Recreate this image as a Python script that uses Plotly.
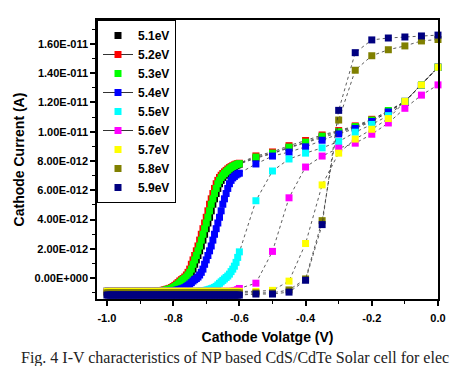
import plotly.graph_objects as go

# ---------------- data ----------------
# dense sweep voltages (V) from -1.0 to -0.6, then sparse points to 0.0
voltage_dense = [
    -1.000, -0.995, -0.990, -0.985, -0.980, -0.975, -0.970, -0.965, -0.960, -0.955,
    -0.950, -0.945, -0.940, -0.935, -0.930, -0.925, -0.920, -0.915, -0.910, -0.905,
    -0.900, -0.895, -0.890, -0.885, -0.880, -0.875, -0.870, -0.865, -0.860, -0.855,
    -0.850, -0.845, -0.840, -0.835, -0.830, -0.825, -0.820, -0.815, -0.810, -0.805,
    -0.800, -0.795, -0.790, -0.785, -0.780, -0.775, -0.770, -0.765, -0.760, -0.755,
    -0.750, -0.745, -0.740, -0.735, -0.730, -0.725, -0.720, -0.715, -0.710, -0.705,
    -0.700, -0.695, -0.690, -0.685, -0.680, -0.675, -0.670, -0.665, -0.660, -0.655,
    -0.650, -0.645, -0.640, -0.635, -0.630, -0.625, -0.620, -0.615, -0.610, -0.605,
    -0.600,
]
voltage_sparse = [-0.55, -0.50, -0.45, -0.40, -0.35, -0.30, -0.25, -0.20, -0.15, -0.10, -0.05, 0.00]

series_names = ["5.1eV", "5.2eV", "5.3eV", "5.4eV", "5.5eV", "5.6eV", "5.7eV", "5.8eV", "5.9eV"]

# cathode current in units of 1e-12 A
i_51_dense = [
    -0.9, -0.9, -0.9, -0.9, -0.9, -0.9, -0.9, -0.9, -0.9, -0.9,
    -0.9, -0.9, -0.9, -0.9, -0.9, -0.9, -0.9, -0.9, -0.9, -0.9,
    -0.9, -0.9, -0.9, -0.9, -0.9, -0.9, -0.9, -0.9, -0.9, -0.9,
    -0.9, -0.9,
    -0.89, -0.88, -0.87, -0.85, -0.82, -0.79, -0.76, -0.73, -0.69, -0.64,
    -0.57, -0.49, -0.40, -0.30, -0.19, -0.10, -0.02, 0.08, 0.22, 0.40,
    0.62, 0.95, 1.25, 1.55, 1.87, 2.2, 2.6, 3.0, 3.38, 3.77,
    4.16, 4.6, 5.05, 5.42, 5.78, 6.13, 6.45, 6.68, 6.88, 7.03,
    7.15, 7.26, 7.36, 7.46, 7.55, 7.62, 7.68, 7.74, 7.79,
]
i_51_sparse = [8.2, 8.5, 8.9, 9.25, 9.65, 9.95, 10.3, 10.75, 11.3, 12.07, 13.2, 14.4]

i_52_dense = [
    -0.9, -0.9, -0.9, -0.9, -0.9, -0.9, -0.9, -0.9, -0.9, -0.9,
    -0.9, -0.9, -0.9, -0.9, -0.9, -0.9, -0.9, -0.9, -0.9, -0.9,
    -0.9, -0.9, -0.9, -0.9, -0.9, -0.9, -0.9, -0.9, -0.9, -0.9,
    -0.89,
    -0.88, -0.87, -0.85, -0.82, -0.79, -0.76, -0.73, -0.69, -0.64, -0.57,
    -0.49, -0.40, -0.30, -0.19, -0.10, -0.02, 0.08, 0.22, 0.40, 0.62,
    0.95, 1.25, 1.55, 1.87, 2.2, 2.6, 3.0, 3.38, 3.77, 4.16,
    4.6, 5.05, 5.42, 5.78, 6.13, 6.45, 6.68, 6.88, 7.03, 7.15,
    7.26, 7.36, 7.46, 7.55, 7.62, 7.68, 7.74, 7.79, 7.82, 7.85,
]
i_52_sparse = [8.35, 8.62, 9.05, 9.4, 9.78, 10.08, 10.4, 10.85, 11.4, 12.07, 13.2, 14.4]

i_53_dense = [
    -0.9, -0.9, -0.9, -0.9, -0.9, -0.9, -0.9, -0.9, -0.9, -0.9,
    -0.9, -0.9, -0.9, -0.9, -0.9, -0.9, -0.9, -0.9, -0.9, -0.9,
    -0.9, -0.9, -0.9, -0.9, -0.9, -0.9, -0.9, -0.9, -0.9, -0.9,
    -0.9,
    -0.89, -0.88, -0.87, -0.85, -0.82, -0.79, -0.76, -0.73, -0.69, -0.64,
    -0.57, -0.49, -0.40, -0.30, -0.19, -0.10, -0.02, 0.08, 0.22, 0.40,
    0.62, 0.95, 1.25, 1.55, 1.87, 2.2, 2.6, 3.0, 3.38, 3.77,
    4.16, 4.6, 5.05, 5.42, 5.78, 6.13, 6.45, 6.68, 6.88, 7.03,
    7.15, 7.26, 7.36, 7.46, 7.55, 7.62, 7.68, 7.74, 7.79, 7.82,
]
i_53_sparse = [8.27, 8.54, 8.95, 9.29, 9.7, 10.0, 10.35, 10.8, 11.45, 12.07, 13.2, 14.4]

i_54_dense = [
    -0.9, -0.9, -0.9, -0.9, -0.9, -0.9, -0.9, -0.9, -0.9, -0.9,
    -0.9, -0.9, -0.9, -0.9, -0.9, -0.9, -0.9, -0.9, -0.9, -0.9,
    -0.9, -0.9, -0.9, -0.9, -0.9, -0.9, -0.9, -0.9, -0.9, -0.9,
    -0.9, -0.9, -0.9, -0.9, -0.9, -0.9, -0.9, -0.9,
    -0.89, -0.88, -0.87, -0.85, -0.82, -0.79, -0.76, -0.73, -0.69, -0.64,
    -0.57, -0.49, -0.40, -0.30, -0.19, -0.10, -0.02, 0.08, 0.22, 0.40,
    0.62, 0.95, 1.25, 1.55, 1.87, 2.2, 2.6, 3.0, 3.38, 3.77,
    4.16, 4.6, 5.05, 5.42, 5.78, 6.13, 6.45, 6.68, 6.85, 6.95,
    7.05, 7.12, 7.17,
]
i_54_sparse = [7.8, 8.34, 8.61, 8.97, 9.42, 9.85, 10.22, 10.7, 11.35, 12.07, 13.2, 14.4]

i_55_dense = [
    -0.9, -0.9, -0.9, -0.9, -0.9, -0.9, -0.9, -0.9, -0.9, -0.9,
    -0.9, -0.9, -0.9, -0.9, -0.9, -0.9, -0.9, -0.9, -0.9, -0.9,
    -0.9, -0.9, -0.9, -0.9, -0.9, -0.9, -0.9, -0.9, -0.9, -0.9,
    -0.9, -0.9, -0.9, -0.9, -0.9, -0.9, -0.9, -0.9, -0.9, -0.9,
    -0.9, -0.9, -0.9, -0.9, -0.9, -0.9, -0.9, -0.9, -0.9, -0.9,
    -0.9, -0.9, -0.9, -0.9, -0.9,
    -0.89, -0.88, -0.87, -0.86, -0.84, -0.82, -0.79, -0.76, -0.72, -0.68,
    -0.63, -0.56, -0.46, -0.35, -0.25, -0.15, -0.05, 0.05, 0.15, 0.28,
    0.45, 0.62, 0.82, 1.08, 1.42, 1.8,
]
i_55_sparse = [5.29, 7.32, 8.14, 8.54, 8.9, 9.33, 9.97, 10.5, 11.1, 12.07, 13.2, 14.4]

i_56_dense = [
    -0.9, -0.9, -0.9, -0.9, -0.9, -0.9, -0.9, -0.9, -0.9, -0.9,
    -0.9, -0.9, -0.9, -0.9, -0.9, -0.9, -0.9, -0.9, -0.9, -0.9,
    -0.9, -0.9, -0.9, -0.9, -0.9, -0.9, -0.9, -0.9, -0.9, -0.9,
    -0.9, -0.9, -0.9, -0.9, -0.9, -0.9, -0.9, -0.9, -0.9, -0.9,
    -0.9, -0.9, -0.9, -0.9, -0.9, -0.9, -0.9, -0.9, -0.9, -0.9,
    -0.9, -0.9, -0.9, -0.9, -0.9, -0.9, -0.9, -0.9, -0.9, -0.9,
    -0.9, -0.9, -0.9, -0.9, -0.9, -0.9, -0.9, -0.9, -0.9, -0.9,
    -0.9, -0.9, -0.9, -0.9, -0.9, -0.9,
    -0.88, -0.86, -0.83, -0.78, -0.7,
]
i_56_sparse = [-0.34, 1.83, 5.49, 7.59, 8.34, 8.88, 9.22, 9.83, 10.6, 11.6, 12.5, 13.2]

i_57_dense = [
    -0.9, -0.9, -0.9, -0.9, -0.9, -0.9, -0.9, -0.9, -0.9, -0.9,
    -0.9, -0.9, -0.9, -0.9, -0.9, -0.9, -0.9, -0.9, -0.9, -0.9,
    -0.9, -0.9, -0.9, -0.9, -0.9, -0.9, -0.9, -0.9, -0.9, -0.9,
    -0.9, -0.9, -0.9, -0.9, -0.9, -0.9, -0.9, -0.9, -0.9, -0.9,
    -0.9, -0.9, -0.9, -0.9, -0.9, -0.9, -0.9, -0.9, -0.9, -0.9,
    -0.9, -0.9, -0.9, -0.9, -0.9, -0.9, -0.9, -0.9, -0.9, -0.9,
    -0.9, -0.9, -0.9, -0.9, -0.9, -0.9, -0.9, -0.9, -0.9, -0.9,
    -0.9, -0.9, -0.9, -0.9, -0.9, -0.9, -0.9, -0.9, -0.9, -0.9,
    -0.9,
]
i_57_sparse = [-0.9, -0.83, -0.2, 2.37, 6.37, 8.54, 9.5, 10.17, 10.9, 12.07, 13.2, 14.4]

i_58_dense = [
    -1.0, -1.0, -1.0, -1.0, -1.0, -1.0, -1.0, -1.0, -1.0, -1.0,
    -1.0, -1.0, -1.0, -1.0, -1.0, -1.0, -1.0, -1.0, -1.0, -1.0,
    -1.0, -1.0, -1.0, -1.0, -1.0, -1.0, -1.0, -1.0, -1.0, -1.0,
    -1.0, -1.0, -1.0, -1.0, -1.0, -1.0, -1.0, -1.0, -1.0, -1.0,
    -1.0, -1.0, -1.0, -1.0, -1.0, -1.0, -1.0, -1.0, -1.0, -1.0,
    -1.0, -1.0, -1.0, -1.0, -1.0, -1.0, -1.0, -1.0, -1.0, -1.0,
    -1.0, -1.0, -1.0, -1.0, -1.0, -1.0, -1.0, -1.0, -1.0, -1.0,
    -1.0, -1.0, -1.0, -1.0, -1.0, -1.0, -1.0, -1.0, -1.0, -1.0,
    -1.0,
]
i_58_sparse = [-1.0, -1.0, -0.8, -0.05, 3.93, 10.8, 14.2, 15.19, 15.6, 15.86, 16.2, 16.3]

i_59_dense = [
    -1.15, -1.15, -1.15, -1.15, -1.15, -1.15, -1.15, -1.15, -1.15, -1.15,
    -1.15, -1.15, -1.15, -1.15, -1.15, -1.15, -1.15, -1.15, -1.15, -1.15,
    -1.15, -1.15, -1.15, -1.15, -1.15, -1.15, -1.15, -1.15, -1.15, -1.15,
    -1.15, -1.15, -1.15, -1.15, -1.15, -1.15, -1.15, -1.15, -1.15, -1.15,
    -1.15, -1.15, -1.15, -1.15, -1.15, -1.15, -1.15, -1.15, -1.15, -1.15,
    -1.15, -1.15, -1.15, -1.15, -1.15, -1.15, -1.15, -1.15, -1.15, -1.15,
    -1.15, -1.15, -1.15, -1.15, -1.15, -1.15, -1.15, -1.15, -1.15, -1.15,
    -1.15, -1.15, -1.15, -1.15, -1.15, -1.15, -1.15, -1.15, -1.15, -1.15,
    -1.15,
]
i_59_sparse = [-1.08, -1.08, -0.95, -0.14, 3.66, 11.46, 15.4, 16.27, 16.4, 16.47, 16.54, 16.6]

x_tick_vals = [-1.0, -0.8, -0.6, -0.4, -0.2, 0.0]
x_tick_text = ["-1.0", "-0.8", "-0.6", "-0.4", "-0.2", "0.0"]
x_minor_vals = [-0.9, -0.7, -0.5, -0.3, -0.1]
y_tick_vals = [0, 2, 4, 6, 8, 10, 12, 14, 16]
y_tick_text = ["0.00E+000", "2.00E-012", "4.00E-012", "6.00E-012", "8.00E-012",
               "1.00E-011", "1.20E-011", "1.40E-011", "1.60E-011"]
y_minor_vals = [-1, 1, 3, 5, 7, 9, 11, 13, 15, 17]

caption_text = "Fig. 4 I-V characteristics of NP based CdS/CdTe Solar cell for elec"

# ---------------- style ----------------
colors = ["#000000", "#FF0000", "#00FF00", "#0000FF", "#00FFFF",
          "#FF00FF", "#FFFF00", "#808000", "#000080"]
legend_has_line = [False, True, False, True, False, True, False, False, False]

dense_series = [i_51_dense, i_52_dense, i_53_dense, i_54_dense, i_55_dense,
                i_56_dense, i_57_dense, i_58_dense, i_59_dense]
sparse_series = [i_51_sparse, i_52_sparse, i_53_sparse, i_54_sparse, i_55_sparse,
                 i_56_sparse, i_57_sparse, i_58_sparse, i_59_sparse]

FONT = "Liberation Sans, Arial, sans-serif"
MS = 7

# the page body adds an 8 px margin, so the figure is 8 px smaller and shifted
W, H = 466, 358
ML, MT = 80, 10
PW, PH = 350, 281

fig = go.Figure()
voltage = voltage_dense + voltage_sparse
for name, col, d, s, hasline in zip(series_names, colors, dense_series, sparse_series, legend_has_line):
    fig.add_trace(go.Scatter(
        x=voltage, y=d + s, mode="lines+markers", showlegend=False,
        line=dict(color="#333333", width=0.8, dash="dot"),
        marker=dict(symbol="square", size=MS, color=col, line=dict(width=0)),
        cliponaxis=False,
    ))
    # legend entry (no data drawn)
    fig.add_trace(go.Scatter(
        x=[None], y=[None], name=name,
        mode="lines+markers" if hasline else "markers",
        line=dict(color="#333333", width=1),
        marker=dict(symbol="square", size=MS, color=col, line=dict(width=0)),
    ))

axis_font = dict(family=FONT, size=11, color="black", weight="bold")
fig.update_layout(
    width=W, height=H,
    margin=dict(l=ML, r=W - ML - PW, t=MT, b=H - MT - PH),
    paper_bgcolor="white", plot_bgcolor="white",
    font=dict(family=FONT, color="black"),
    showlegend=True,
    legend=dict(
        x=0, y=1, xanchor="left", yanchor="top",
        bgcolor="white", bordercolor="black", borderwidth=1,
        font=dict(family=FONT, size=12, color="black", weight="bold"),
        tracegroupgap=0, itemwidth=30,
    ),
    xaxis=dict(
        range=[-1.03, 0.0], showgrid=False, zeroline=False,
        showline=True, linecolor="black", linewidth=1.5, mirror=True,
        tickmode="array", tickvals=x_tick_vals, ticktext=x_tick_text,
        ticks="outside", ticklen=5, tickwidth=1.5, tickcolor="black",
        minor=dict(tickmode="array", tickvals=x_minor_vals, ticks="outside",
                   ticklen=3, tickwidth=1, tickcolor="black"),
        tickfont=axis_font, ticklabelstandoff=3,
        title=dict(text="Cathode Volatge (V)", standoff=9,
                   font=dict(family=FONT, size=14, color="black", weight="bold")),
    ),
    yaxis=dict(
        range=[-1.42, 17.63], showgrid=False, zeroline=False,
        showline=True, linecolor="black", linewidth=1.5, mirror=True,
        tickmode="array", tickvals=y_tick_vals, ticktext=y_tick_text,
        ticks="outside", ticklen=5, tickwidth=1.5, tickcolor="black",
        minor=dict(tickmode="array", tickvals=y_minor_vals, ticks="outside",
                   ticklen=3, tickwidth=1, tickcolor="black"),
        tickfont=axis_font,
        title=dict(text="Cathode Current (A)", standoff=7,
                   font=dict(family=FONT, size=14, color="black", weight="bold")),
    ),
    xaxis2=dict(
        overlaying="x", side="top", anchor="y", range=[-1.03, 0.0],
        showgrid=False, zeroline=False, showline=False, showticklabels=False,
        tickmode="array", tickvals=x_tick_vals, ticks="inside", ticklen=4,
        tickwidth=1.2, tickcolor="black",
        minor=dict(tickmode="array", tickvals=x_minor_vals, ticks="inside",
                   ticklen=3, tickwidth=1, tickcolor="black"),
    ),
    yaxis2=dict(
        overlaying="y", side="right", anchor="x", range=[-1.42, 17.63],
        showgrid=False, zeroline=False, showline=False, showticklabels=False,
        tickmode="array", tickvals=y_tick_vals, ticks="inside", ticklen=4,
        tickwidth=1.2, tickcolor="black",
        minor=dict(tickmode="array", tickvals=y_minor_vals, ticks="inside",
                   ticklen=3, tickwidth=1, tickcolor="black"),
    ),
)

# caption under the chart
fig.add_annotation(
    text=caption_text,
    xref="paper", yref="paper", x=(0 - ML) / PW, y=-(339 - (MT + PH)) / PH,
    xanchor="left", yanchor="top", showarrow=False,
    font=dict(family="Liberation Serif, Times New Roman, serif", size=16, color="#222222"),
)

fig.write_html("out.html")
